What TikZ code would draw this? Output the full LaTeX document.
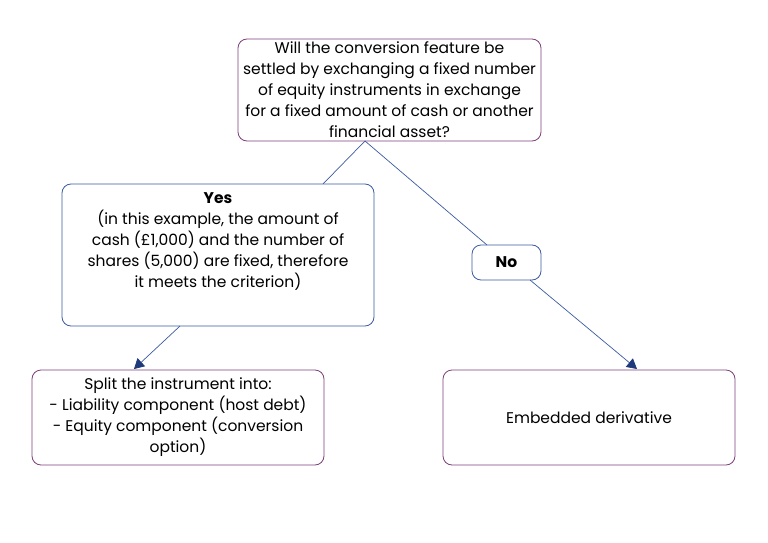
\documentclass[tikz,border=0pt]{standalone}
\usepackage{fontspec}
\setmainfont{Poppins}
\usetikzlibrary{arrows.meta}
\definecolor{pur}{HTML}{7B3F7A}
\definecolor{blu}{HTML}{3A5BA0}
\definecolor{navy}{HTML}{1F3A7A}
\begin{document}
\begin{tikzpicture}[x=1pt,y=-1pt,
  box/.style={draw=#1,rounded corners=9pt,line width=0.8pt,align=center,font=\fontsize{15.5}{21}\selectfont,inner sep=2pt},
  conn/.style={draw=blu,line width=0.7pt},
  arr/.style={conn,-{Triangle[length=10pt,width=11pt,fill=navy,color=navy]}}]
\useasboundingbox (0,0) rectangle (768,543);
\node[box=pur,minimum width=303pt,minimum height=102pt] (q) at (389.5,90) {Will the conversion feature be\\settled by exchanging a fixed number\\of equity instruments in exchange\\for a fixed amount of cash or another\\financial asset?};
\node[box=blu,minimum width=312pt,minimum height=142pt] (yes) at (218,255) {\textbf{Yes}\\(in this example, the amount of\\cash (£1,000) and the number of\\shares (5,000) are fixed, therefore\\it meets the criterion)\\[8pt]};
\node[box=blu,minimum width=69pt,minimum height=35pt] (no) at (506.5,262.5) {\textbf{No}};
\node[box=pur,minimum width=292pt,minimum height=95pt] (split) at (178,417.5) {Split the instrument into:\\- Liability component (host debt)\\- Equity component (conversion\\option)\hspace{5.5em}};
\node[box=pur,minimum width=292pt,minimum height=95pt] (emb) at (589,417.5) {Embedded derivative};
\coordinate (qb) at (365,141);
\draw[conn] (qb) -- (323,184);
\draw[conn] (qb) -- (487,245);
\draw[arr] (180,326) -- (134,369);
\draw[arr] (530,280) -- (637,369);
\end{tikzpicture}
\end{document}
